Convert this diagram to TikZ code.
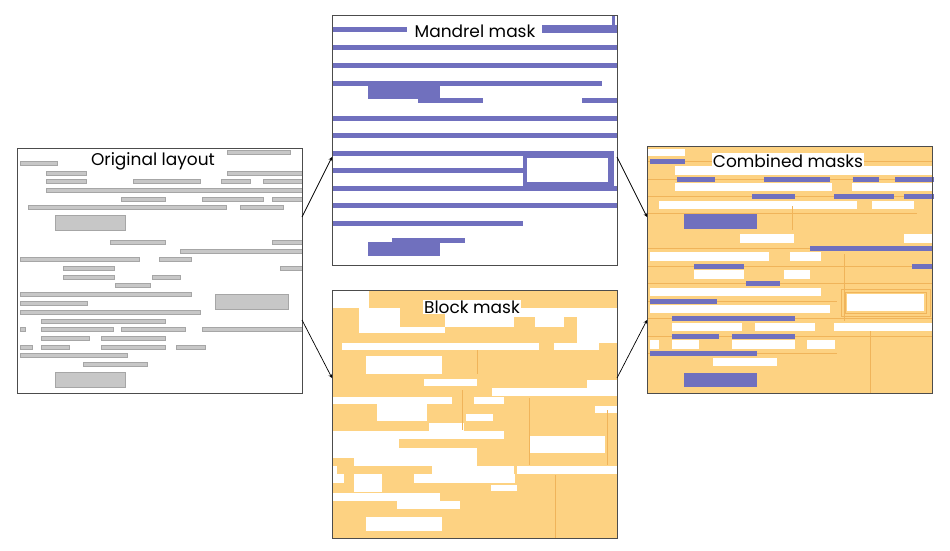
\documentclass[tikz,border=0pt]{standalone}
\usepackage{fontspec}
\setmainfont{Poppins}
\begin{document}
\definecolor{mand}{RGB}{112,112,190}
\definecolor{blk}{RGB}{253,210,130}
\definecolor{blkd}{RGB}{240,180,90}
\begin{tikzpicture}[x=1pt,y=-1pt,
  frame/.style={draw=black!70,line width=1pt},
  gbar/.style={fill=black!22,draw=black!35,line width=0.4pt},
  mbar/.style={fill=mand,draw=none},
  hole/.style={fill=white,draw=none},
  title/.style={fill=white,inner sep=1pt,font=\fontsize{17}{17}\selectfont},
  arr/.style={->,>=stealth,line width=0.7pt}]
\useasboundingbox (0,0) rectangle (950,551);
% ---------- Original layout ----------
\begin{scope}[shift={(17,148)}]
\foreach \a/\b/\y in {3/40/15,210/273/4,29/69/25,210/285/25,29/69/33,116/183/33,204/233/33,246/285/33,29/285/42,104/148/51,185/246/51,255/285/51,11/209/59,223/266/59,93/148/94,255/285/94,163/285/103,3/122/111,142/174/111,46/97/120,263/285/120,46/97/129,135/163/129,98/133/137,3/174/146,3/70/155,3/183/164,24/148/173,3/8/181,24/96/181,104/168/181,185/285/181,24/72/190,84/148/190,3/15/199,24/52/199,84/148/199,159/188/199,3/110/207,66/130/216}
  \path[gbar] (\a,\y-2) rectangle (\b,\y+2);
\path[gbar] (38,67) rectangle (108,82);
\path[gbar] (198,146) rectangle (271,161);
\path[gbar] (38,224) rectangle (108,239);
\draw[frame] (0,0) rectangle (285,245);
\node[title] (orig) at (136,13) {Original layout};
\end{scope}
% ---------- Mandrel mask ----------
\begin{scope}[shift={(332,16)}]
\foreach \a/\b/\y in {0/75/14,0/285/32,0/285/50,0/270/67,86/151/84,250/285/84,0/285/102,0/285/119,0/282/137,0/191/154,0/285/172,0/285/189,0/191/207,60/133/224}
  \path[mbar] (\a,\y-2.5) rectangle (\b,\y+2.5);
\path[mbar] (210,9) rectangle (285,17);
\path[mbar] (280,0) rectangle (283,15);
\path[mbar] (36,67) rectangle (108,83);
\path[mbar] (36,226) rectangle (108,240);
\path[mbar] (191,135) rectangle (282,172);
\path[hole] (195,142) rectangle (276,166);
\draw[frame] (0,0) rectangle (285,249);
\node[title] (mand) at (143,15) {Mandrel mask};
\end{scope}
% ---------- Block mask ----------
\begin{scope}[shift={(332,290)}]
\fill[blk] (0,0) rectangle (285,248);
\foreach \a/\c/\b/\d in {0/9/37/18, 0/0/37/9, 27/18/68/43, 68/37/113/43, 113/18/182/37,
  182/18/285/27, 203/27/232/37, 245/27/285/53, 10/53/207/60, 222/53/267/60,
  34/66/110/84, 92/89/145/96, 255/90/285/106, 160/98/285/106, 0/107/120/114,
  142/107/172/114, 45/114/95/131, 134/124/161/131, 97/133/132/141, 0/141/172/149,
  0/149/67/168, 0/158/145/168, 198/146/273/163, 263/116/285/123, 22/168/145/176,
  185/176/285/184, 0/176/5/184, 22/184/50/202, 82/184/183/193, 159/195/185/201,
  0/203/108/211, 65/211/128/219, 34/227/110/241, 100/176/182/184, 0/184/12/193}
  \fill[white] (\a,\c) rectangle (\b,\d);
\draw[blkd,line width=0.4pt] (145,60)--(145,84) (197,108)--(197,175) (275,120)--(275,175) (223,185)--(223,248) (130,100)--(130,140);
\draw[frame] (0,0) rectangle (285,248);
\node[title] (block) at (140,17) {Block mask};
\end{scope}
% ---------- Combined masks ----------
\begin{scope}[shift={(647,146)}]
\fill[blk] (0,0) rectangle (285,247);
\foreach \a/\c/\b/\d in {0/3/38/10, 28/20/285/29, 28/37/185/45, 205/37/285/45, 12/55/210/63, 225/55/267/63,
  93/88/147/97, 257/88/285/97, 3/106/122/115, 143/106/174/115, 47/124/97/133, 137/124/163/133,
  3/142/174/150, 200/148/277/165, 3/159/183/167, 25/177/95/185, 108/177/168/185, 187/177/285/185,
  3/194/12/203, 25/194/52/203, 85/194/148/203, 160/194/188/203, 66/212/130/220}
  \fill[white] (\a,\c) rectangle (\b,\d);
\draw[blkd,line width=0.5pt] (198,146) rectangle (279,167) (194,143) rectangle (283,170)
  (0,15)--(285,15) (0,33)--(285,33) (0,50)--(285,50) (0,67)--(270,67) (0,102)--(285,102)
  (0,120)--(285,120) (0,137)--(285,137) (0,155)--(190,155) (0,172)--(285,172) (0,190)--(285,190)
  (0,207)--(190,207) (145,60)--(145,84) (197,108)--(197,175) (223,185)--(223,247);
\foreach \a/\b/\y in {3/38/15,30/68/33,117/183/33,206/232/33,248/287/33,105/148/50,187/247/50,257/287/50,163/285/102,47/97/120,265/285/120,99/133/137,3/70/155,25/148/172,25/72/190,85/148/190,3/110/207}
  \path[mbar] (\a,\y-2.5) rectangle (\b,\y+2.5);
\path[mbar] (37,68) rectangle (110,83);
\path[mbar] (37,227) rectangle (110,241);
\draw[frame] (0,0) rectangle (285,247);
\node[title] (comb) at (141,15) {Combined masks};
\end{scope}
% ---------- arrows ----------
\coordinate (o1) at (302,217); \coordinate (m1) at (332,157);
\coordinate (o2) at (302,320); \coordinate (b1) at (332,378);
\coordinate (m2) at (617,157); \coordinate (c1) at (647,217);
\coordinate (b2) at (617,378); \coordinate (c2) at (647,320);
\draw[arr] (o1)--(m1); \draw[arr] (o2)--(b1);
\draw[arr] (m2)--(c1); \draw[arr] (b2)--(c2);
\end{tikzpicture}
\end{document}
